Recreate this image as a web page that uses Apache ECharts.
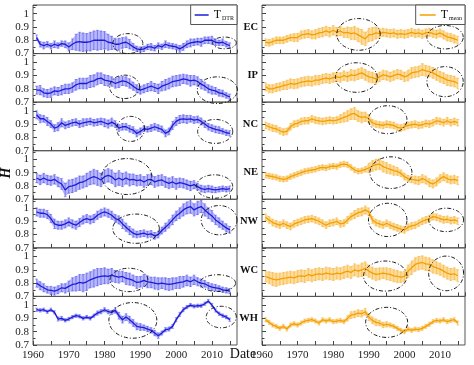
<!DOCTYPE html>
<html><head><meta charset="utf-8">
<script src="https://cdn.jsdelivr.net/npm/echarts@6/dist/echarts.min.js"></script>
<style>html,body{margin:0;padding:0;background:#fff}#c{width:474px;height:365px}</style>
</head><body><div id="c"></div>
<script>
// ---------- data ----------
const years = [1961,1962,1963,1964,1965,1966,1967,1968,1969,1970,
 1971,1972,1973,1974,1975,1976,1977,1978,1979,1980,
 1981,1982,1983,1984,1985,1986,1987,1988,1989,1990,
 1991,1992,1993,1994,1995,1996,1997,1998,1999,2000,
 2001,2002,2003,2004,2005,2006,2007,2008,2009,2010,
 2011,2012,2013,2014,2015];
const regions = ['EC','IP','NC','NE','NW','WC','WH'];
const yTicks = [0.7,0.8,0.9,1];
const xTickLabels = [1960,1970,1980,1990,2000,2010];

// T_DTR (left column)
const dtrEC = [0.82,0.77,0.76,0.77,0.755,0.77,0.76,0.775,0.77,0.75, 0.77,0.785,0.79,0.785,0.785,0.79,0.80,0.80,0.80,0.80, 0.785,0.78,0.77,0.77,0.78,0.785,0.77,0.75,0.735,0.73, 0.735,0.75,0.75,0.74,0.76,0.75,0.77,0.76,0.755,0.75, 0.735,0.75,0.77,0.78,0.785,0.79,0.785,0.80,0.80,0.80, 0.785,0.78,0.785,0.77,0.76];
const dtrECerr = [0.02,0.02,0.025,0.02,0.02,0.025,0.02,0.02,0.025,0.03, 0.04,0.06,0.07,0.07,0.065,0.07,0.07,0.075,0.07,0.065, 0.06,0.05,0.04,0.045,0.04,0.04,0.035,0.025,0.02,0.02, 0.02,0.02,0.025,0.02,0.02,0.02,0.025,0.02,0.02,0.02, 0.025,0.025,0.025,0.03,0.025,0.025,0.03,0.025,0.025,0.03, 0.025,0.02,0.025,0.02,0.02];
const dtrIP = [0.79,0.79,0.77,0.765,0.77,0.785,0.78,0.79,0.80,0.80, 0.81,0.83,0.84,0.84,0.84,0.855,0.86,0.875,0.88,0.865, 0.86,0.855,0.84,0.85,0.86,0.855,0.84,0.82,0.80,0.79, 0.80,0.81,0.82,0.81,0.80,0.82,0.83,0.84,0.855,0.86, 0.865,0.875,0.87,0.86,0.865,0.855,0.835,0.82,0.80,0.79, 0.785,0.77,0.765,0.75,0.74];
const dtrIPerr = [0.03,0.035,0.03,0.03,0.035,0.03,0.03,0.035,0.035,0.035, 0.035,0.04,0.04,0.04,0.04,0.045,0.045,0.045,0.04,0.04, 0.04,0.035,0.035,0.04,0.035,0.035,0.035,0.03,0.03,0.03, 0.03,0.03,0.035,0.03,0.035,0.035,0.04,0.04,0.04,0.04, 0.04,0.035,0.035,0.04,0.035,0.035,0.035,0.03,0.03,0.03, 0.025,0.025,0.025,0.02,0.02];
const dtrNC = [0.97,0.94,0.94,0.92,0.90,0.87,0.88,0.91,0.89,0.90, 0.91,0.915,0.90,0.91,0.915,0.92,0.91,0.915,0.92,0.91, 0.90,0.915,0.90,0.87,0.88,0.88,0.865,0.855,0.83,0.845, 0.865,0.86,0.87,0.88,0.87,0.86,0.83,0.845,0.89,0.92, 0.935,0.94,0.935,0.94,0.93,0.935,0.92,0.90,0.88,0.87, 0.86,0.855,0.845,0.835,0.83];
const dtrNCerr = [0.03,0.03,0.025,0.03,0.025,0.025,0.03,0.03,0.025,0.025, 0.025,0.025,0.025,0.03,0.025,0.025,0.025,0.025,0.025,0.03, 0.03,0.03,0.025,0.025,0.025,0.025,0.025,0.025,0.025,0.025, 0.02,0.02,0.025,0.025,0.025,0.025,0.025,0.025,0.03,0.03, 0.03,0.03,0.03,0.025,0.025,0.025,0.025,0.025,0.025,0.025, 0.025,0.025,0.02,0.02,0.02];
const dtrNE = [0.86,0.845,0.86,0.845,0.84,0.85,0.83,0.815,0.77,0.795, 0.80,0.81,0.825,0.83,0.845,0.86,0.87,0.86,0.845,0.87, 0.88,0.87,0.845,0.86,0.845,0.86,0.845,0.85,0.84,0.845, 0.83,0.845,0.85,0.83,0.84,0.845,0.83,0.82,0.83,0.815, 0.825,0.82,0.81,0.80,0.81,0.795,0.78,0.775,0.78,0.775, 0.77,0.775,0.78,0.775,0.78];
const dtrNEerr = [0.035,0.035,0.035,0.035,0.035,0.035,0.035,0.04,0.05,0.05, 0.05,0.05,0.05,0.045,0.05,0.05,0.055,0.055,0.05,0.05, 0.05,0.05,0.05,0.055,0.05,0.045,0.045,0.04,0.04,0.04, 0.04,0.04,0.04,0.04,0.04,0.04,0.04,0.04,0.04,0.04, 0.035,0.035,0.035,0.035,0.03,0.025,0.025,0.025,0.025,0.025, 0.02,0.02,0.02,0.02,0.02];
const dtrNW = [0.97,0.96,0.96,0.95,0.92,0.88,0.87,0.87,0.88,0.895, 0.88,0.87,0.89,0.91,0.92,0.91,0.92,0.945,0.96,0.97, 0.96,0.945,0.92,0.91,0.88,0.855,0.83,0.81,0.80,0.805, 0.81,0.80,0.805,0.79,0.80,0.83,0.855,0.88,0.91,0.94, 0.96,0.985,1.0,1.01,0.985,1.0,1.01,0.985,0.96,0.94, 0.91,0.89,0.87,0.85,0.835];
const dtrNWerr = [0.03,0.03,0.03,0.03,0.03,0.035,0.03,0.03,0.03,0.03, 0.03,0.03,0.03,0.03,0.03,0.03,0.03,0.03,0.03,0.03, 0.03,0.03,0.03,0.03,0.035,0.03,0.03,0.03,0.025,0.025, 0.025,0.025,0.025,0.025,0.025,0.025,0.03,0.03,0.035,0.035, 0.04,0.045,0.045,0.05,0.045,0.05,0.045,0.045,0.04,0.04, 0.035,0.035,0.03,0.03,0.025];
const dtrWC = [0.80,0.78,0.765,0.75,0.745,0.74,0.75,0.765,0.76,0.775, 0.79,0.795,0.805,0.80,0.81,0.825,0.835,0.845,0.85,0.855, 0.85,0.86,0.85,0.845,0.85,0.835,0.83,0.82,0.805,0.81, 0.82,0.81,0.805,0.80,0.795,0.80,0.795,0.79,0.795,0.80, 0.805,0.81,0.82,0.81,0.825,0.81,0.80,0.795,0.78,0.77, 0.765,0.76,0.75,0.745,0.74];
const dtrWCerr = [0.03,0.03,0.03,0.025,0.03,0.03,0.03,0.03,0.035,0.04, 0.05,0.055,0.06,0.065,0.065,0.06,0.065,0.065,0.06,0.06, 0.055,0.05,0.045,0.045,0.04,0.045,0.045,0.04,0.045,0.04, 0.045,0.045,0.04,0.045,0.045,0.04,0.045,0.045,0.045,0.04, 0.045,0.04,0.04,0.035,0.035,0.03,0.03,0.025,0.025,0.025, 0.025,0.02,0.02,0.02,0.02];
const dtrWH = [0.965,0.96,0.965,0.95,0.965,0.945,0.895,0.90,0.885,0.895, 0.91,0.92,0.915,0.90,0.91,0.90,0.92,0.94,0.95,0.965, 0.95,0.945,0.96,0.92,0.89,0.91,0.89,0.865,0.84,0.835, 0.83,0.82,0.81,0.79,0.77,0.79,0.815,0.82,0.84,0.89, 0.93,0.965,0.985,1.0,0.99,0.995,0.995,1.01,1.03,1.0, 0.96,0.935,0.92,0.91,0.89];
const dtrWHerr = [0.012,0.012,0.012,0.012,0.012,0.012,0.015,0.015,0.012,0.012, 0.012,0.012,0.012,0.012,0.012,0.012,0.012,0.015,0.015,0.015, 0.015,0.015,0.02,0.025,0.025,0.025,0.025,0.025,0.025,0.025, 0.02,0.02,0.02,0.02,0.02,0.015,0.015,0.015,0.015,0.015, 0.015,0.015,0.012,0.012,0.012,0.012,0.012,0.012,0.012,0.012, 0.012,0.012,0.012,0.012,0.012];

// T_mean (right column)
const meanEC = [0.785,0.78,0.79,0.80,0.80,0.80,0.81,0.82,0.82,0.82, 0.84,0.845,0.85,0.84,0.845,0.855,0.86,0.87,0.86,0.875, 0.86,0.87,0.855,0.86,0.85,0.855,0.84,0.825,0.81,0.84, 0.845,0.855,0.85,0.86,0.855,0.85,0.855,0.845,0.85,0.845, 0.85,0.86,0.85,0.855,0.845,0.855,0.86,0.85,0.845,0.855, 0.84,0.825,0.82,0.81,0.80];
const meanECerr = [0.025,0.025,0.025,0.025,0.025,0.025,0.025,0.025,0.03,0.03, 0.03,0.03,0.03,0.03,0.035,0.035,0.035,0.035,0.035,0.035, 0.035,0.035,0.035,0.04,0.045,0.05,0.05,0.055,0.05,0.05, 0.05,0.045,0.035,0.03,0.03,0.03,0.03,0.03,0.03,0.03, 0.03,0.03,0.03,0.03,0.03,0.03,0.03,0.03,0.03,0.03, 0.03,0.03,0.03,0.03,0.03];
const meanIP = [0.815,0.80,0.80,0.81,0.815,0.825,0.83,0.84,0.835,0.84, 0.85,0.855,0.86,0.855,0.865,0.865,0.875,0.88,0.875,0.885, 0.89,0.885,0.90,0.89,0.905,0.90,0.91,0.92,0.905,0.89, 0.885,0.875,0.89,0.905,0.90,0.89,0.90,0.91,0.905,0.89, 0.90,0.92,0.925,0.93,0.945,0.935,0.93,0.92,0.905,0.89, 0.88,0.865,0.86,0.855,0.84];
const meanIPerr = [0.03,0.03,0.03,0.03,0.03,0.03,0.035,0.035,0.035,0.035, 0.035,0.035,0.035,0.035,0.035,0.035,0.035,0.035,0.035,0.035, 0.035,0.035,0.035,0.035,0.04,0.04,0.04,0.04,0.04,0.04, 0.04,0.04,0.035,0.035,0.035,0.035,0.035,0.035,0.035,0.035, 0.04,0.04,0.04,0.04,0.045,0.04,0.04,0.04,0.04,0.04, 0.04,0.04,0.04,0.04,0.04];
const meanNC = [0.89,0.88,0.87,0.865,0.85,0.84,0.845,0.88,0.90,0.905, 0.92,0.925,0.925,0.94,0.93,0.925,0.92,0.925,0.93,0.925, 0.93,0.94,0.95,0.96,0.975,0.98,0.96,0.95,0.955,0.94, 0.91,0.90,0.895,0.89,0.90,0.895,0.89,0.875,0.87,0.88, 0.89,0.895,0.90,0.89,0.895,0.905,0.90,0.91,0.925,0.92, 0.91,0.925,0.91,0.92,0.91];
const meanNCerr = [0.025,0.025,0.025,0.025,0.025,0.025,0.025,0.025,0.025,0.025, 0.025,0.025,0.025,0.025,0.025,0.025,0.025,0.025,0.025,0.025, 0.025,0.03,0.035,0.04,0.04,0.045,0.04,0.04,0.035,0.03, 0.025,0.025,0.025,0.025,0.025,0.025,0.025,0.025,0.025,0.025, 0.025,0.025,0.025,0.025,0.025,0.025,0.025,0.025,0.025,0.025, 0.025,0.025,0.025,0.025,0.025];
const meanNE = [0.88,0.875,0.87,0.865,0.855,0.85,0.855,0.87,0.88,0.89, 0.90,0.91,0.915,0.92,0.925,0.935,0.94,0.935,0.945,0.95, 0.945,0.96,0.965,0.96,0.94,0.92,0.91,0.915,0.925,0.935, 0.95,0.96,0.965,0.945,0.935,0.925,0.915,0.91,0.895,0.87, 0.855,0.85,0.845,0.84,0.855,0.845,0.825,0.815,0.83,0.855, 0.87,0.855,0.845,0.85,0.84];
const meanNEerr = [0.02,0.02,0.02,0.02,0.02,0.02,0.02,0.02,0.02,0.02, 0.02,0.02,0.02,0.02,0.02,0.02,0.02,0.02,0.02,0.02, 0.02,0.02,0.02,0.02,0.02,0.02,0.02,0.02,0.02,0.035, 0.04,0.04,0.04,0.04,0.04,0.035,0.035,0.03,0.025,0.025, 0.025,0.025,0.03,0.03,0.03,0.03,0.03,0.03,0.03,0.03, 0.03,0.03,0.03,0.03,0.03];
const meanNW = [0.93,0.91,0.89,0.88,0.87,0.885,0.87,0.86,0.88,0.89, 0.90,0.91,0.915,0.92,0.91,0.90,0.885,0.87,0.885,0.89, 0.90,0.88,0.885,0.91,0.935,0.95,0.965,0.97,0.985,0.97, 0.91,0.89,0.88,0.87,0.885,0.87,0.86,0.85,0.84,0.835, 0.855,0.865,0.87,0.885,0.90,0.91,0.92,0.935,0.93,0.92, 0.91,0.915,0.905,0.91,0.90];
const meanNWerr = [0.025,0.025,0.025,0.025,0.025,0.025,0.025,0.025,0.025,0.025, 0.025,0.025,0.025,0.025,0.025,0.025,0.025,0.025,0.025,0.025, 0.025,0.025,0.025,0.025,0.025,0.03,0.03,0.03,0.03,0.03, 0.025,0.025,0.025,0.025,0.025,0.025,0.025,0.025,0.025,0.025, 0.025,0.025,0.025,0.025,0.025,0.025,0.025,0.025,0.025,0.025, 0.025,0.025,0.025,0.025,0.025];
const meanWC = [0.85,0.84,0.83,0.825,0.83,0.835,0.84,0.845,0.84,0.85, 0.855,0.85,0.865,0.855,0.865,0.87,0.865,0.875,0.87,0.865, 0.875,0.87,0.88,0.89,0.88,0.90,0.89,0.90,0.91,0.89, 0.875,0.865,0.87,0.875,0.87,0.865,0.855,0.85,0.845,0.85, 0.89,0.915,0.94,0.95,0.955,0.945,0.94,0.925,0.915,0.905, 0.89,0.875,0.865,0.87,0.855];
const meanWCerr = [0.04,0.045,0.05,0.05,0.045,0.045,0.045,0.045,0.045,0.045, 0.045,0.045,0.045,0.045,0.045,0.045,0.045,0.045,0.045,0.045, 0.045,0.045,0.045,0.045,0.045,0.045,0.045,0.05,0.05,0.045, 0.045,0.045,0.045,0.04,0.045,0.045,0.045,0.045,0.04,0.04, 0.045,0.05,0.05,0.05,0.05,0.05,0.05,0.05,0.045,0.045, 0.045,0.045,0.045,0.045,0.045];
const meanWH = [0.89,0.87,0.85,0.84,0.825,0.84,0.82,0.85,0.86,0.85, 0.865,0.88,0.885,0.89,0.88,0.865,0.89,0.88,0.89,0.875, 0.88,0.885,0.875,0.90,0.925,0.93,0.94,0.935,0.95,0.91, 0.885,0.87,0.865,0.85,0.855,0.85,0.84,0.825,0.81,0.80, 0.82,0.81,0.82,0.815,0.825,0.84,0.855,0.875,0.885,0.88, 0.89,0.875,0.885,0.89,0.865];
const meanWHerr = [0.015,0.015,0.015,0.015,0.015,0.015,0.015,0.015,0.015,0.015, 0.015,0.015,0.015,0.015,0.015,0.015,0.015,0.015,0.015,0.015, 0.015,0.015,0.015,0.02,0.025,0.025,0.025,0.025,0.025,0.025, 0.025,0.025,0.02,0.02,0.02,0.015,0.015,0.015,0.015,0.015, 0.015,0.015,0.015,0.015,0.015,0.015,0.015,0.015,0.015,0.015, 0.015,0.015,0.015,0.015,0.015];

// dashed ellipses (annotation, in data units: centre year, centre H, half-width yrs, half-height H)
const ellDTR = [
  [[1986.5,0.775,4.2,0.075],[2013.5,0.78,3.3,0.044]],
  [[1985.6,0.815,4.2,0.088],[2011.5,0.79,5.6,0.1]],
  [[1987.3,0.864,3.9,0.094],[2010.9,0.845,4.9,0.09]],
  [[1986.2,0.871,7,0.135],[2010.7,0.796,5.1,0.088]],
  [[1988.8,0.844,6.5,0.11],[2012,0.908,5,0.11]],
  [[1986.8,0.824,5.3,0.088],[2011.6,0.8,5,0.063]],
  [[1987.9,0.885,6.7,0.134],[2012.6,0.91,4.2,0.081]]
];
const ellMean = [
  [[1987.1,0.844,6.1,0.119],[2011.4,0.823,5.1,0.088]],
  [[1986.5,0.885,5.9,0.111],[2011.4,0.854,5.1,0.113]],
  [[1995.3,0.933,5.4,0.105]],
  [[1996.2,0.9,5.9,0.119]],
  [[1995.3,0.91,5.4,0.125],[2011.7,0.91,4.9,0.088]],
  [[1994.6,0.853,6.1,0.113],[2011.7,0.873,4.9,0.13]],
  [[1995,0.87,5.9,0.113]]
];

const dtrVals = [dtrEC,dtrIP,dtrNC,dtrNE,dtrNW,dtrWC,dtrWH];
const dtrErrs = [dtrECerr,dtrIPerr,dtrNCerr,dtrNEerr,dtrNWerr,dtrWCerr,dtrWHerr];
const meanVals = [meanEC,meanIP,meanNC,meanNE,meanNW,meanWC,meanWH];
const meanErrs = [meanECerr,meanIPerr,meanNCerr,meanNEerr,meanNWerr,meanWCerr,meanWHerr];

// ---------- chart ----------
const FONT = 'Liberation Serif';
const TOP = 5, PH = 48.57;
const cols = [
  {left:33, width:204, vals:dtrVals, errs:dtrErrs, ell:ellDTR, name:'T_DTR',
   line:'#1c1cd8', band:'rgba(160,160,248,0.75)', bar:'rgba(80,80,238,0.85)'},
  {left:262, width:203, vals:meanVals, errs:meanErrs, ell:ellMean, name:'T_mean',
   line:'#f2a000', band:'rgba(252,208,125,0.75)', bar:'rgba(246,178,50,0.85)'}
];

function errRender(params, api){
  const x = api.value(0), v = api.value(1), e = api.value(2);
  const hi = api.coord([x, v+e]), lo = api.coord([x, v-e]);
  const w = 1.3;
  const style = {stroke: api.visual('color'), lineWidth: 0.7};
  return {type:'group', children:[
    {type:'line', shape:{x1:hi[0],y1:hi[1],x2:lo[0],y2:lo[1]}, style:style},
    {type:'line', shape:{x1:hi[0]-w,y1:hi[1],x2:hi[0]+w,y2:hi[1]}, style:style},
    {type:'line', shape:{x1:lo[0]-w,y1:lo[1],x2:lo[0]+w,y2:lo[1]}, style:style}
  ]};
}
function makeBandRender(vals, errs, color){
  return function(params, api){
    const up = [], dn = [];
    for (let k=0; k<years.length; k++){
      up.push(api.coord([years[k], vals[k]+errs[k]]));
      dn.push(api.coord([years[k], vals[k]-errs[k]]));
    }
    return {type:'polygon', shape:{points: up.concat(dn.reverse())}, style:{fill:color, stroke:null}};
  };
}
function ellRender(params, api){
  const cx=api.value(0), cy=api.value(1), rx=api.value(2), ry=api.value(3);
  const pts=[];
  for(let k=0;k<=80;k++){const t=k/80*2*Math.PI; pts.push(api.coord([cx+rx*Math.cos(t), cy+ry*Math.sin(t)]));}
  return {type:'polyline', shape:{points:pts}, style:{stroke:'#111', lineWidth:1, lineDash:[4,2,1,2], fill:null}};
}

const grid=[], xAxis=[], yAxis=[], series=[];
let gi = 0;
cols.forEach((c, ci) => {
  for (let r=0; r<7; r++){
    grid.push({left:c.left, width:c.width, top:TOP+r*PH, height:PH, show:true,
      borderColor:'#555', borderWidth:1, backgroundColor:'transparent'});
    xAxis.push({gridIndex:gi, type:'value', min:1960, max:2017, interval:5,
      axisLine:{show:false}, splitLine:{show:false},
      axisTick:{inside:true, length:4, lineStyle:{color:'#444'}},
      axisLabel:{show:r===6, showMaxLabel:false, margin:5, fontFamily:FONT, fontSize:11, color:'#222',
        formatter:v => xTickLabels.indexOf(v)>=0 ? String(v) : ''}});
    const region = regions[r];
    yAxis.push({gridIndex:gi, type:'value', min:0.7, max:1.065, interval:0.1,
      axisLine:{show:false}, splitLine:{show:false},
      axisTick:{inside:true, length:4, lineStyle:{color:'#444'}},
      minorTick:{show:true, splitNumber:2, length:2.5, lineStyle:{color:'#444'}},
      axisLabel: ci===0 ?
        {showMaxLabel:false, margin:4, fontFamily:FONT, fontSize:11, color:'#222',
         formatter:v => { for (const t of yTicks) if (Math.abs(v-t)<1e-6) return t===1?'1':t.toFixed(1); return ''; }} :
        {showMaxLabel:false, margin:4, fontFamily:FONT, fontSize:10.5, fontWeight:'bold', color:'#111',
         formatter:v => Math.abs(v-0.9)<1e-6 ? region : ''}
    });
    const vals = c.vals[r], errs = c.errs[r];
    series.push({type:'custom', xAxisIndex:gi, yAxisIndex:gi, silent:true, z:1,
      renderItem: makeBandRender(vals, errs, c.band), encode:{x:0, y:1},
      data: [[years[0], vals[0]]]});
    series.push({type:'custom', xAxisIndex:gi, yAxisIndex:gi, renderItem:errRender, silent:true,
      itemStyle:{color:c.bar}, encode:{x:0, y:1}, data: years.map((y,k)=>[y, vals[k], errs[k]]), z:2});
    series.push({type:'line', name:c.name, xAxisIndex:gi, yAxisIndex:gi, symbol:'none', showSymbol:false,
      color:c.line, lineStyle:{color:c.line, width:1.3}, data: years.map((y,k)=>[y, vals[k]]), z:3});
    series.push({type:'custom', xAxisIndex:gi, yAxisIndex:gi, renderItem:ellRender, silent:true,
      encode:{x:0, y:1}, data: c.ell[r], z:4, clip:false});
    gi++;
  }
});

const richTS = {fontFamily:FONT, fontSize:10, color:'#111',
  rich:{t:{fontFamily:FONT, fontSize:12, color:'#111'}, s:{fontFamily:FONT, fontSize:6, color:'#111', padding:[7,0,0,1]}}};
const option = {
  animation:false,
  grid, xAxis, yAxis, series,
  legend:[
    {data:['T_DTR'], right:237, top:5, backgroundColor:'#fff', borderColor:'#555', borderWidth:1, borderRadius:0,
     padding:[4,3,3,4], icon:'rect', itemWidth:14, itemHeight:1.5, itemGap:4, textStyle:richTS,
     formatter:()=>'{t|T}{s|DTR}'},
    {data:['T_mean'], right:9, top:5, backgroundColor:'#fff', borderColor:'#555', borderWidth:1, borderRadius:0,
     padding:[4,3,3,4], icon:'rect', itemWidth:16, itemHeight:1.5, itemGap:4, textStyle:richTS,
     formatter:()=>'{t|T}{s|mean}'}
  ],
  graphic:[
    {type:'text', x:6, y:173, rotation:Math.PI/2,
     style:{text:'H', font:'italic bold 14px "Liberation Serif"', fill:'#111', textAlign:'center', textVerticalAlign:'middle'}},
    {type:'text', x:243, y:354,
     style:{text:'Date', font:'14px "Liberation Serif"', fill:'#111', textAlign:'center', textVerticalAlign:'middle'}}
  ]
};
const chart = echarts.init(document.getElementById('c'), null, {renderer:'canvas'});
chart.setOption(option);
</script></body></html>
